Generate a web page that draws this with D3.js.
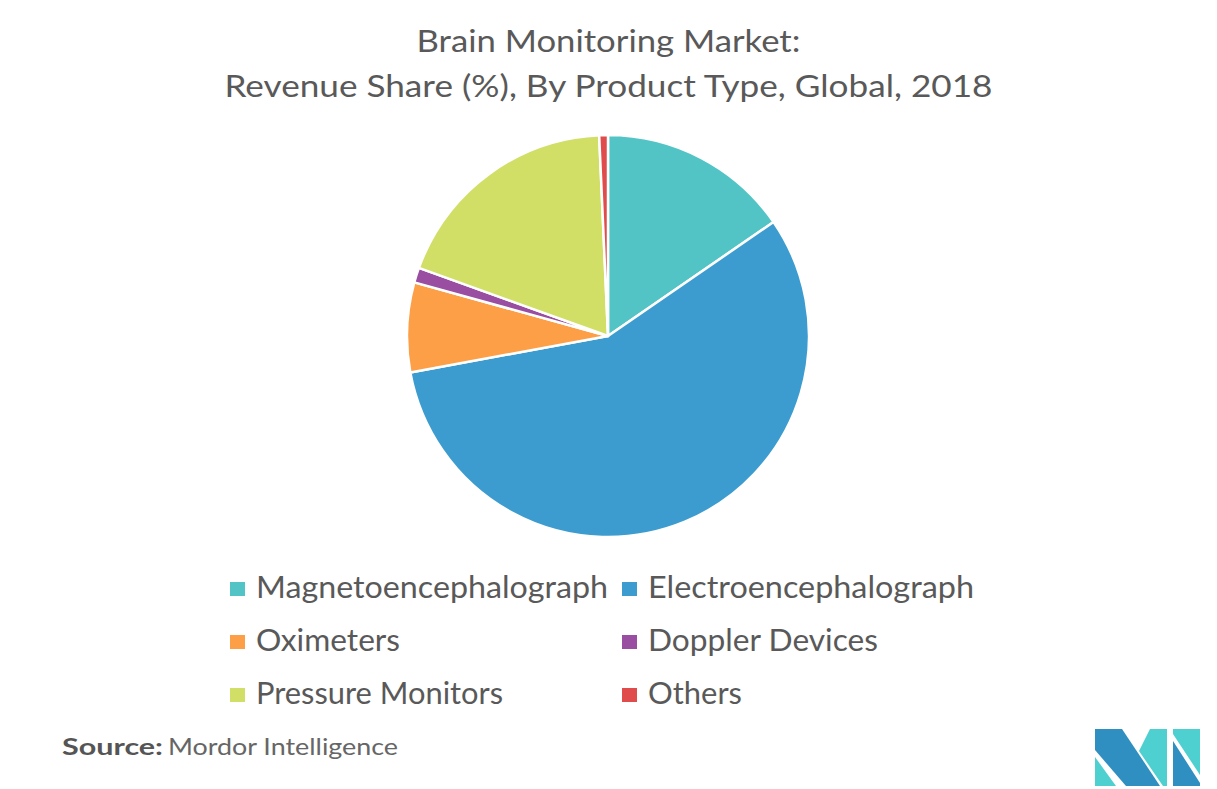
<!DOCTYPE html>
<html>
<head>
<meta charset="utf-8">
<script src="https://cdn.jsdelivr.net/npm/d3@7"></script>
<style>
  html, body { margin: 0; padding: 0; background: #fff; }
  svg { display: block; font-family: Lato, "Open Sans", sans-serif; }
</style>
</head>
<body>
<svg id="chart" width="1217" height="789"></svg>
<script>
const categories = ["Magnetoencephalograph", "Electroencephalograph", "Oximeters", "Doppler Devices", "Pressure Monitors", "Others"];
const shares = [15.4, 56.7, 7.2, 1.2, 18.8, 0.7];
const colors = ["#52c4c6", "#3d9ccf", "#fd9f47", "#994ea1", "#d1df67", "#e04b4b"];
const titleLines = ["Brain Monitoring Market:", "Revenue Share (%), By Product Type, Global, 2018"];

const svg = d3.select("#chart");
const textColor = "#595959";

// Title
const titleWidths = [384, 768];
const titleY = [52, 97];
titleLines.forEach((t, i) => {
  svg.append("text")
    .attr("x", 608.5).attr("y", titleY[i])
    .attr("text-anchor", "middle")
    .attr("font-size", 31)
    .attr("fill", textColor)
    .attr("textLength", titleWidths[i])
    .attr("lengthAdjust", "spacingAndGlyphs")
    .text(t);
});

// Pie
const cx = 608, cy = 336, r = 201;
const data = categories.map((c, i) => ({ name: c, value: shares[i], color: colors[i] }));
const pie = d3.pie().value(d => d.value).sort(null).startAngle(0).endAngle(2 * Math.PI);
const arc = d3.arc().innerRadius(0).outerRadius(r);
svg.append("g").attr("transform", `translate(${cx},${cy})`)
  .selectAll("path").data(pie(data)).join("path")
  .attr("d", arc)
  .attr("fill", d => d.data.color)
  .attr("stroke", "#fff")
  .attr("stroke-width", 2.5)
  .attr("stroke-linejoin", "round");

// Legend
const colX = [230, 622];
const rowY = [598, 651, 704];
const labelWidths = [352, 326, 144, 230, 247, 94];
const legend = svg.append("g");
data.forEach((d, i) => {
  const col = i % 2, row = Math.floor(i / 2);
  const g = legend.append("g");
  g.append("rect").attr("x", colX[col]).attr("y", rowY[row] - 16).attr("width", 15).attr("height", 14).attr("fill", d.color);
  g.append("text").attr("x", colX[col] + 26).attr("y", rowY[row])
    .attr("font-size", 30).attr("fill", textColor)
    .attr("textLength", labelWidths[i]).attr("lengthAdjust", "spacingAndGlyphs")
    .text(d.name);
});

// Source
svg.append("text").attr("x", 62).attr("y", 755).attr("font-size", 23).attr("fill", "#555")
  .attr("font-weight", "bold").attr("textLength", 101).attr("lengthAdjust", "spacingAndGlyphs").text("Source:");
svg.append("text").attr("x", 168).attr("y", 755).attr("font-size", 23).attr("fill", "#666")
  .attr("textLength", 230).attr("lengthAdjust", "spacingAndGlyphs").text("Mordor Intelligence");

// Logo
const logo = svg.append("g");
const dark = "#2e8fc0", light = "#4ecfd0";
const polys = [
  { c: dark, p: [[1095,729],[1122,729],[1160,786],[1126,786],[1095,750]] },
  { c: light, p: [[1095,757],[1095,786],[1116,786]] },
  { c: light, p: [[1150,729],[1167,729],[1167,786],[1163,786],[1139,751]] },
  { c: light, p: [[1173,729],[1200,729],[1200,775],[1173,734]] },
  { c: dark, p: [[1173,741],[1200,783],[1200,786],[1173,786]] }
];
polys.forEach(o => logo.append("polygon").attr("points", o.p.map(q => q.join(",")).join(" ")).attr("fill", o.c));
</script>
</body>
</html>
